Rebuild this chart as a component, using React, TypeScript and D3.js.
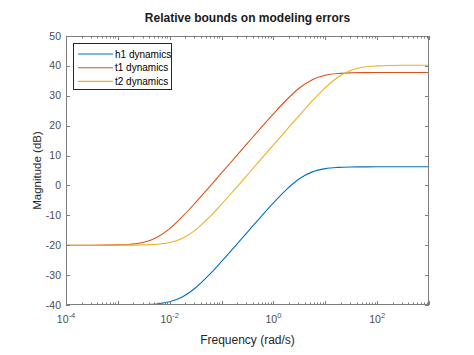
import React from "react";
import * as d3 from "d3";

const logFreq = [-4, -3.75, -3.5, -3.25, -3, -2.75, -2.5, -2.25, -2, -1.75, -1.5, -1.25, -1, -0.75, -0.5, -0.25, 0, 0.25, 0.5, 0.75, 1, 1.25, 1.5, 1.75, 2, 2.25, 2.5, 2.75, 3];
const h1 = [-40, -40, -40, -40, -39.99, -39.96, -39.88, -39.64, -38.94, -37.27, -34.24, -30.11, -25.43, -20.54, -15.59, -10.67, -5.86, -1.4, 2.23, 4.54, 5.63, 6.04, 6.18, 6.22, 6.24, 6.25, 6.25, 6.25, 6.25];
const t1 = [-20, -20, -19.99, -19.96, -19.89, -19.65, -18.99, -17.39, -14.44, -10.35, -5.69, -0.8, 4.17, 9.15, 14.13, 19.09, 23.97, 28.59, 32.59, 35.4, 36.88, 37.47, 37.68, 37.74, 37.77, 37.78, 37.78, 37.78, 37.78];
const t2 = [-20, -20, -20, -20, -19.99, -19.97, -19.9, -19.7, -19.11, -17.65, -14.86, -10.87, -6.25, -1.38, 3.58, 8.56, 13.55, 18.53, 23.47, 28.27, 32.71, 36.29, 38.56, 39.61, 40.01, 40.15, 40.19, 40.2, 40.2];

const seriesNames = ["h1 dynamics", "t1 dynamics", "t2 dynamics"];
const seriesData = [h1, t1, t2];
const seriesColors = ["#0072BD", "#D95319", "#EDB120"];

const yTicks = [-40, -30, -20, -10, 0, 10, 20, 30, 40, 50];
const xMajorExp = [-4, -3, -2, -1, 0, 1, 2, 3];
const xLabelExp = [-4, -2, 0, 2];

const W = 474, H = 355;
const L = 66, R = 429, T = 36, B = 305;
const axisColor = "#7d7d7d";
const textColor = "#4d4d4d";
const font = "'Liberation Sans', Arial, Helvetica, sans-serif";

export default function App() {
  const x = d3.scaleLog().domain([1e-4, 1e3]).range([L, R]);
  const y = d3.scaleLinear().domain([-40, 50]).range([B, T]);

  const line = d3
    .line<[number, number]>()
    .x((d) => x(Math.pow(10, d[0])))
    .y((d) => y(d[1]))
    .curve(d3.curveMonotoneX);

  const minorTicks: number[] = [];
  for (let e = -4; e < 3; e++) {
    for (let m = 2; m <= 9; m++) minorTicks.push(m * Math.pow(10, e));
  }

  const legX = 73, legY = 43, legW = 98, legH = 46;

  return (
    <svg width={W} height={H} style={{ position: "absolute", left: 0, top: 0, background: "#fff" }} fontFamily={font}>
      <rect x={0} y={0} width={W} height={H} fill="#fff" />
      <defs>
        <clipPath id="plotclip">
          <rect x={L} y={T} width={R - L} height={B - T} />
        </clipPath>
      </defs>
      <rect x={L} y={T} width={R - L} height={B - T} fill="#fff" />

      <g clipPath="url(#plotclip)">
        {seriesData.map((s, i) => (
          <path
            key={i}
            d={line(logFreq.map((lf, j) => [lf, s[j]] as [number, number])) || ""}
            fill="none"
            stroke={seriesColors[i]}
            strokeWidth={1.1}
          />
        ))}
      </g>

      <rect x={L + 0.5} y={T + 0.5} width={R - L - 1} height={B - T - 1} fill="none" stroke={axisColor} strokeWidth={1} />

      {yTicks.map((t) => (
        <g key={"y" + t}>
          <line x1={L} x2={L + 4} y1={Math.round(y(t)) + 0.5} y2={Math.round(y(t)) + 0.5} stroke={axisColor} />
          <line x1={R - 4} x2={R} y1={Math.round(y(t)) + 0.5} y2={Math.round(y(t)) + 0.5} stroke={axisColor} />
          <text x={L - 5} y={y(t) + 3.6} textAnchor="end" fontSize={10.5} fill={textColor}>
            {t}
          </text>
        </g>
      ))}

      {xMajorExp.map((e) => {
        const px = Math.round(x(Math.pow(10, e))) + 0.5;
        return (
          <g key={"xm" + e}>
            <line x1={px} x2={px} y1={B} y2={B - 4} stroke={axisColor} />
            <line x1={px} x2={px} y1={T} y2={T + 4} stroke={axisColor} />
          </g>
        );
      })}
      {minorTicks.map((v, i) => {
        const px = Math.round(x(v)) + 0.5;
        return (
          <g key={"xn" + i}>
            <line x1={px} x2={px} y1={B} y2={B - 2.5} stroke={axisColor} />
            <line x1={px} x2={px} y1={T} y2={T + 2.5} stroke={axisColor} />
          </g>
        );
      })}
      {xLabelExp.map((e) => (
        <text key={"xl" + e} x={x(Math.pow(10, e))} y={323} textAnchor="middle" fontSize={10.5} fill={textColor}>
          10
          <tspan dy={-5} fontSize={7.5}>
            {e < 0 ? "-" + Math.abs(e) : String(e)}
          </tspan>
        </text>
      ))}

      <text x={(L + R) / 2} y={22} textAnchor="middle" fontSize={12} fontWeight="bold" fill="#1a1a1a">
        Relative bounds on modeling errors
      </text>
      <text x={(L + R) / 2} y={344} textAnchor="middle" fontSize={12} fill="#262626">
        Frequency (rad/s)
      </text>
      <text transform={`translate(41, ${(T + B) / 2}) rotate(-90)`} textAnchor="middle" fontSize={11.5} fill="#262626">
        Magnitude (dB)
      </text>

      <rect x={legX + 0.5} y={legY + 0.5} width={legW} height={legH} fill="#fff" stroke="#262626" strokeWidth={1} />
      {seriesNames.map((n, i) => {
        const ry = 54 + i * 13.7;
        return (
          <g key={"lg" + i}>
            <line x1={78} x2={113} y1={ry} y2={ry} stroke={seriesColors[i]} strokeWidth={1.1} />
            <text x={115} y={ry + 3.5} fontSize={10} fill="#000">
              {n}
            </text>
          </g>
        );
      })}
    </svg>
  );
}
